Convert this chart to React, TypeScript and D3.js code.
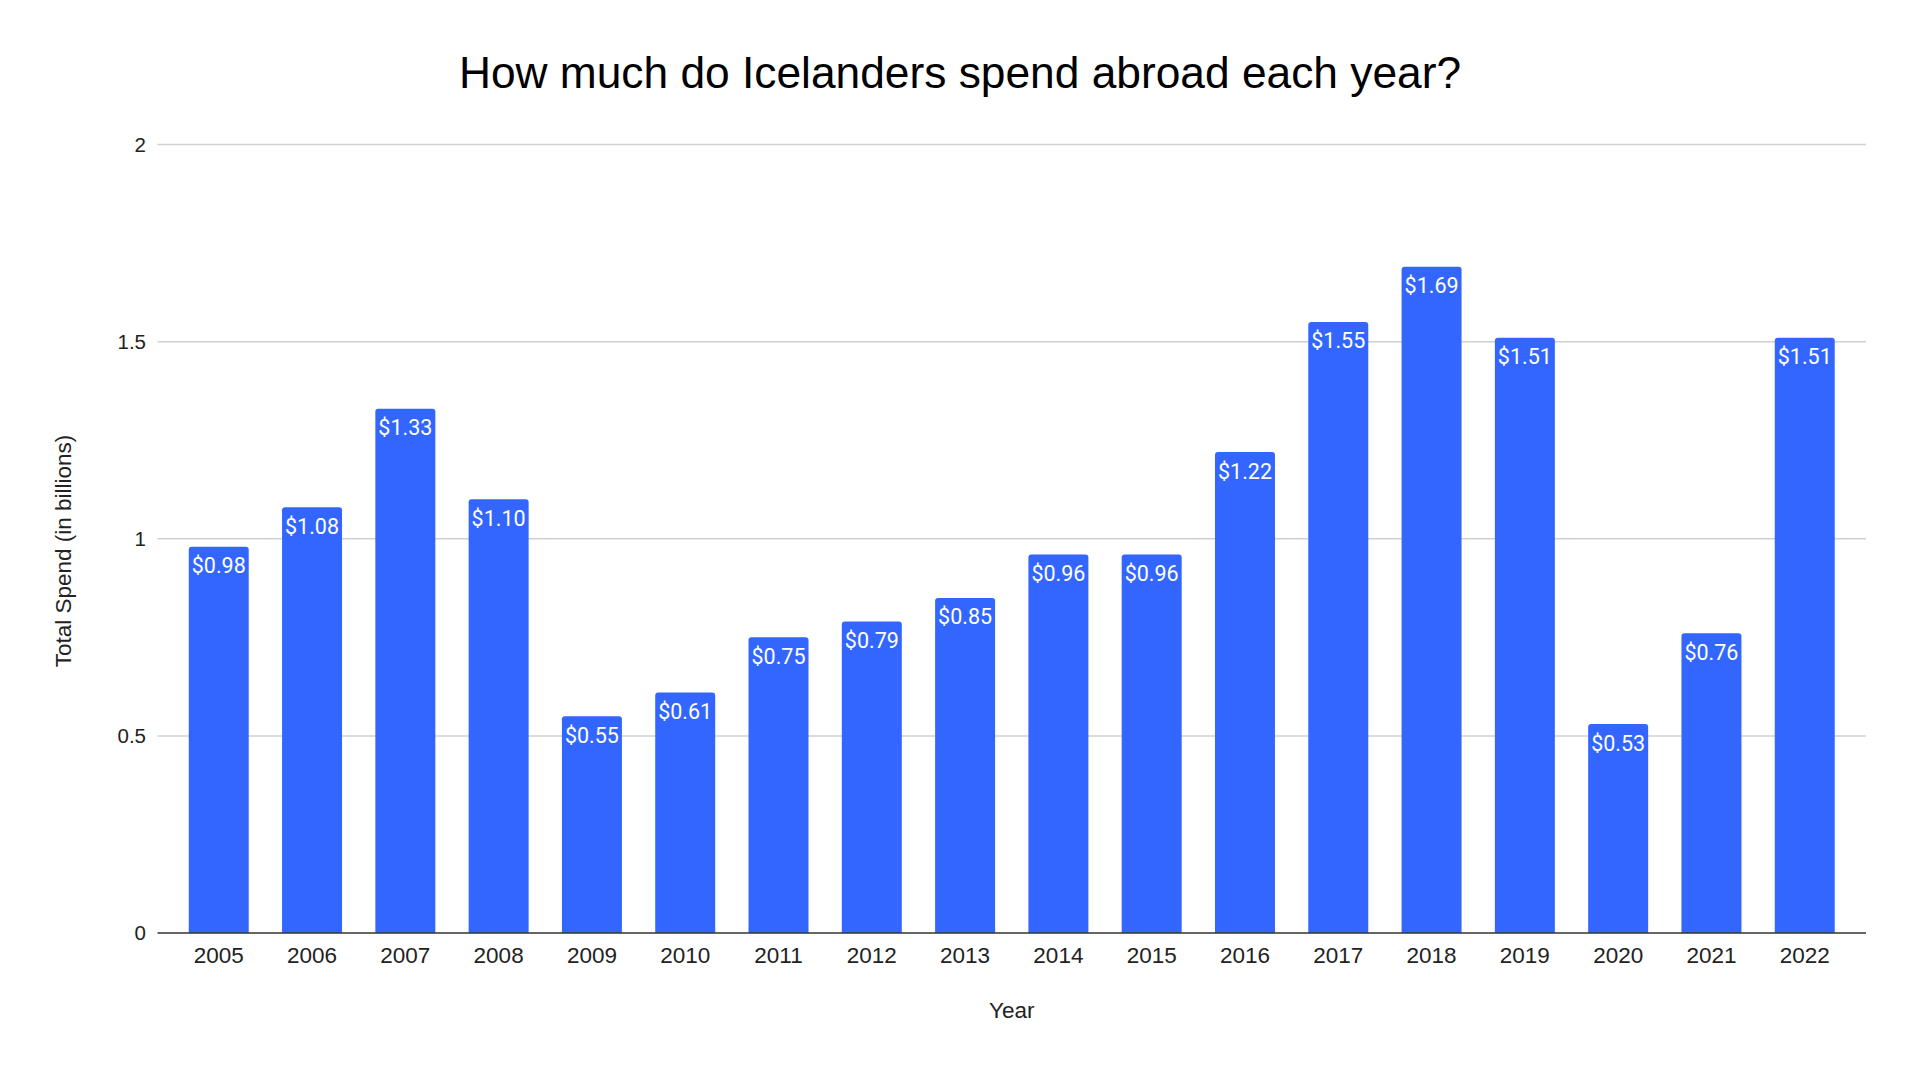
import { useEffect, useRef } from 'react';
import * as d3 from 'd3';

// Icelanders' spend abroad, billions USD
const years = ['2005', '2006', '2007', '2008', '2009', '2010', '2011', '2012', '2013',
  '2014', '2015', '2016', '2017', '2018', '2019', '2020', '2021', '2022'];
const spend = [0.98, 1.08, 1.33, 1.10, 0.55, 0.61, 0.75, 0.79, 0.85,
  0.96, 0.96, 1.22, 1.55, 1.69, 1.51, 0.53, 0.76, 1.51];
const yTicks = [0, 0.5, 1, 1.5, 2];

const W = 1920;
const H = 1076;

const App = () => {
  const svgRef = useRef<SVGSVGElement>(null);

  useEffect(() => {
    if (!svgRef.current) return;
    const svg = d3.select(svgRef.current);
    svg.selectAll('*').remove();

    const left = 157.5;
    const right = 1866;
    const top = 144.5;
    const bottom = 933;

    const x = d3.scaleBand<string>()
      .domain(years)
      .range([left, right])
      .paddingInner(0.357)
      .paddingOuter(0.335);

    const y = d3.scaleLinear().domain([0, 2]).range([bottom, top]);

    // gridlines
    svg.append('g')
      .selectAll('line')
      .data(yTicks.filter(t => t > 0))
      .enter()
      .append('line')
      .attr('x1', left)
      .attr('x2', right)
      .attr('y1', d => y(d))
      .attr('y2', d => y(d))
      .attr('stroke', '#d0d0d0')
      .attr('stroke-width', 1.5);

    // y tick labels
    svg.append('g')
      .selectAll('text')
      .data(yTicks)
      .enter()
      .append('text')
      .attr('x', 146)
      .attr('y', d => y(d))
      .attr('dy', '0.36em')
      .attr('text-anchor', 'end')
      .attr('font-family', 'Liberation Sans, Arial, sans-serif')
      .attr('font-size', 20.5)
      .attr('fill', '#222')
      .text(d => String(d));

    // bars with rounded top corners
    const r = 3;
    const bw = x.bandwidth();
    svg.append('g')
      .selectAll('path')
      .data(spend)
      .enter()
      .append('path')
      .attr('d', (d, i) => {
        const x0 = x(years[i])!;
        const y0 = y(d);
        return `M${x0},${bottom}V${y0 + r}Q${x0},${y0} ${x0 + r},${y0}H${x0 + bw - r}Q${x0 + bw},${y0} ${x0 + bw},${y0 + r}V${bottom}Z`;
      })
      .attr('fill', '#3366ff');

    // value labels
    svg.append('g')
      .selectAll('text')
      .data(spend)
      .enter()
      .append('text')
      .attr('x', (d, i) => x(years[i])! + bw / 2)
      .attr('y', d => y(d) + 26.5)
      .attr('text-anchor', 'middle')
      .attr('font-family', 'Roboto, sans-serif')
      .attr('font-size', 21.5)
      .attr('fill', '#fff')
      .text(d => '$' + d3.format('.2f')(d));

    // baseline
    svg.append('line')
      .attr('x1', left)
      .attr('x2', right)
      .attr('y1', bottom)
      .attr('y2', bottom)
      .attr('stroke', '#333')
      .attr('stroke-width', 1.5);

    // x tick labels
    svg.append('g')
      .selectAll('text')
      .data(years)
      .enter()
      .append('text')
      .attr('x', d => x(d)! + bw / 2)
      .attr('y', 963)
      .attr('text-anchor', 'middle')
      .attr('font-family', 'Liberation Sans, Arial, sans-serif')
      .attr('font-size', 22.5)
      .attr('fill', '#222')
      .text(d => d);

    // axis titles
    svg.append('text')
      .attr('x', (left + right) / 2)
      .attr('y', 1018)
      .attr('text-anchor', 'middle')
      .attr('font-family', 'Liberation Sans, Arial, sans-serif')
      .attr('font-size', 22.5)
      .attr('fill', '#222')
      .text('Year');

    svg.append('text')
      .attr('transform', 'translate(71,551) rotate(-90)')
      .attr('text-anchor', 'middle')
      .attr('font-family', 'Liberation Sans, Arial, sans-serif')
      .attr('font-size', 22.5)
      .attr('fill', '#222')
      .text('Total Spend (in billions)');

    // title
    svg.append('text')
      .attr('x', 960)
      .attr('y', 88)
      .attr('text-anchor', 'middle')
      .attr('font-family', 'Liberation Sans, Arial, sans-serif')
      .attr('font-size', 44.3)
      .attr('fill', '#000')
      .text('How much do Icelanders spend abroad each year?');
  }, []);

  return (
    <div style={{ position: 'fixed', left: 0, top: 0, width: W, height: H, background: '#fff' }}>
      <svg ref={svgRef} width={W} height={H} viewBox={`0 0 ${W} ${H}`} />
    </div>
  );
};

export default App;
